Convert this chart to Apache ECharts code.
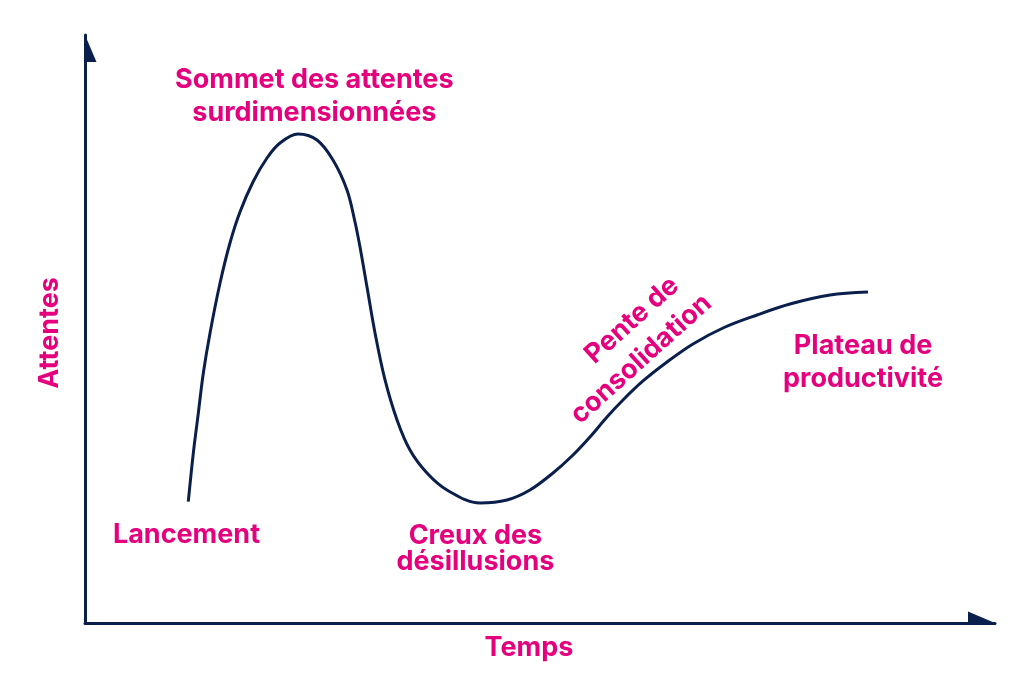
<!DOCTYPE html>
<html>
<head>
<meta charset="utf-8">
<script src="https://cdn.jsdelivr.net/npm/echarts@6/dist/echarts.min.js"></script>
<style>html,body{margin:0;padding:0;background:#fff;}#c{width:1024px;height:694px;}</style>
</head>
<body>
<div id="c"></div>
<script>
// Hype-cycle curve (time 0-100, expectations 0-100)
const curveX = [11.35, 11.90, 12.45, 13.00, 13.74, 14.84, 15.93, 17.03, 18.46, 20.00, 21.43, 23.41, 25.49, 27.25, 28.79, 29.67, 30.22, 30.99, 31.87, 32.97, 34.29, 35.71, 37.58, 39.78, 43.41, 46.37, 48.90, 51.43, 53.63, 55.49, 57.36, 59.12, 61.32, 63.96, 66.81, 70.11, 73.85, 77.47, 81.87, 86.04];
const curveY = [20.63, 28.86, 35.66, 42.47, 49.32, 57.82, 64.63, 69.90, 75.00, 79.08, 81.63, 83.16, 82.14, 78.74, 73.64, 68.20, 63.95, 57.14, 49.32, 41.33, 34.52, 29.42, 25.51, 22.62, 20.41, 20.92, 22.62, 25.51, 28.57, 31.63, 35.03, 37.93, 41.16, 44.39, 47.45, 50.17, 52.38, 54.25, 55.78, 56.29];
const axisNames = ['Temps', 'Attentes'];
const phaseLabels = [
  'Sommet des attentes\nsurdimensionnées',
  'Lancement',
  'Creux des\ndésillusions',
  ['Pente de', 'consolidation'],
  'Plateau de\nproductivité'
];

const NAVY = '#0b1f4d';
const PINK = '#e5007d';
const FONT = 'Inter';
const FS = 27;

const curve = curveX.map((x, i) => [x, curveY[i]]);

const txt = { color: PINK, fontFamily: FONT, fontWeight: 'bold', fontSize: FS };

// annotation anchors (layout, in data coordinates)
const anchors = [
  { at: [25.2, 89.6], lh: 33, rot: 0 },
  { at: [11.15, 15.0], lh: 30, rot: 0 },
  { at: [42.9, 12.6], lh: 26, rot: 0 },
  { at: [60.6, 48.2], lh: 35, rot: 42 },
  { at: [85.5, 44.4], lh: 33, rot: 0 }
];
const labelData = phaseLabels.map((t, i) => {
  const a = anchors[i];
  if (Array.isArray(t)) {
    return {
      value: a.at,
      label: {
        formatter: '{a|' + t[0] + '}\n{b|' + t[1] + '}',
        rotate: a.rot,
        rich: {
          a: Object.assign({ lineHeight: a.lh, padding: [0, 0, 0, 19] }, txt),
          b: Object.assign({ lineHeight: a.lh, padding: [0, 19, 0, 0] }, txt)
        }
      }
    };
  }
  return { value: a.at, label: { formatter: t, lineHeight: a.lh, rotate: a.rot } };
});

const halfArrowUpRight = 'path://M11.5,0 L23,27 L11.5,27 Z M0,27 L0,27';
const halfArrowUpLeft = 'path://M11.5,0 L11.5,27 L0,27 Z M23,27 L23,27';

const chart = echarts.init(document.getElementById('c'), null, { renderer: 'canvas' });
chart.setOption({
  animation: false,
  backgroundColor: '#ffffff',
  grid: { left: 85, right: 29, top: 35, bottom: 71, containLabel: false },
  xAxis: {
    type: 'value', min: 0, max: 100,
    name: axisNames[0], nameLocation: 'middle', nameGap: 11,
    nameTextStyle: Object.assign({ padding: [0, 22, 0, 0] }, txt),
    axisLine: { show: true, lineStyle: { color: NAVY, width: 3 }, symbol: ['none', halfArrowUpLeft], symbolSize: [23, 27], symbolOffset: [0, -13.5] },
    axisTick: { show: false }, axisLabel: { show: false }, splitLine: { show: false }
  },
  yAxis: {
    type: 'value', min: 0, max: 100,
    name: axisNames[1], nameLocation: 'middle', nameGap: 22, nameRotate: 90,
    nameTextStyle: Object.assign({ padding: [0, 8, 0, 0] }, txt),
    axisLine: { show: true, lineStyle: { color: NAVY, width: 3 }, symbol: ['none', halfArrowUpRight], symbolSize: [23, 27], symbolOffset: [0, -13.5] },
    axisTick: { show: false }, axisLabel: { show: false }, splitLine: { show: false }
  },
  series: [
    {
      type: 'line', data: curve, smooth: 0.35, symbol: 'none',
      lineStyle: { color: NAVY, width: 3 }, silent: true
    },
    {
      type: 'scatter', data: labelData, symbolSize: 1, silent: true,
      itemStyle: { color: 'rgba(0,0,0,0)', opacity: 1 },
      label: Object.assign({
        show: true, position: 'inside', align: 'center', verticalAlign: 'middle'
      }, txt)
    }
  ]
});
</script>
</body>
</html>
